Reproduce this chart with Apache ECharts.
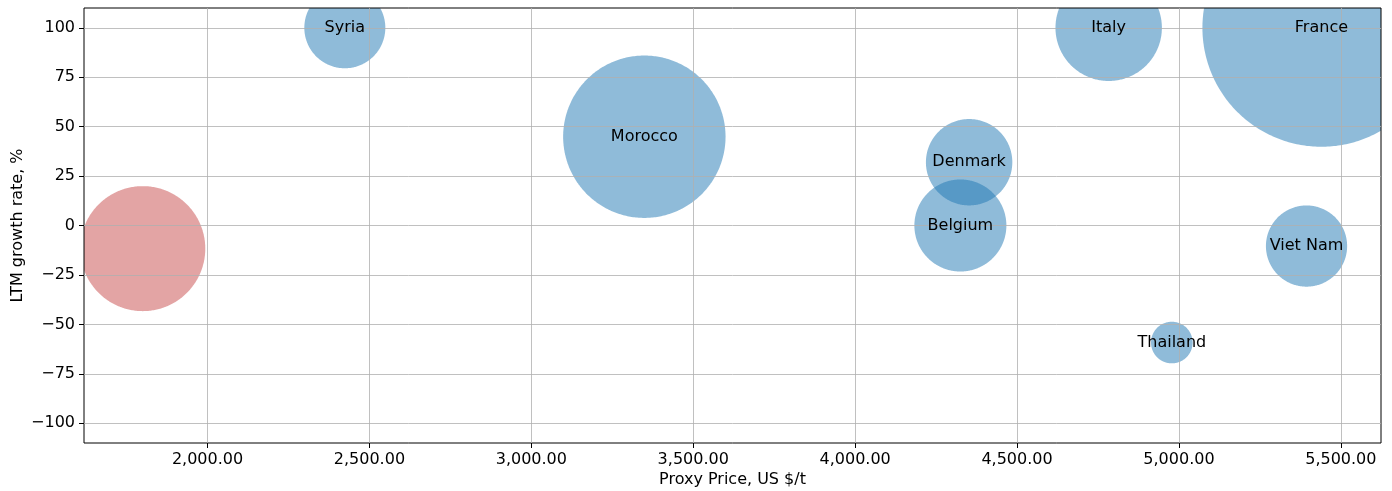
<!DOCTYPE html>
<html>
<head>
<meta charset="utf-8">
<script src="https://cdn.jsdelivr.net/npm/echarts@6/dist/echarts.min.js"></script>
<style>
  html, body { margin: 0; padding: 0; background: #fff; }
  #chart { width: 1392px; height: 491px; }
</style>
</head>
<body>
<div id="chart"></div>
<script>
// ---- data ----
const countries = ['', 'Syria', 'Morocco', 'Denmark', 'Belgium', 'Italy', 'France', 'Viet Nam', 'Thailand'];
const proxyPrice = [1800, 2424, 3349, 4352, 4325, 4783, 5440, 5394, 4978];   // US $/t
const growthRate = [-11.7, 100, 44.9, 32.0, 0, 100, 100, -10.4, -59.2];      // LTM growth, %
const volume = [15625, 6561, 26374, 7465, 8464, 11321, 56644, 6593, 1731];   // bubble size value
const group = ['self', 'partner', 'partner', 'partner', 'partner', 'partner', 'partner', 'partner', 'partner'];
const xTicks = [2000, 2500, 3000, 3500, 4000, 4500, 5000, 5500];
const yTicks = [-100, -75, -50, -25, 0, 25, 50, 75, 100];
const xRange = [1618.5, 5624];
const yRange = [-110, 110];

// ---- styles / layout ----
const G = { left: 84, top: 8, right: 11, bottom: 48 };
const FONT = '"DejaVu Sans", "Liberation Sans", sans-serif';
const RADIUS_SCALE = 0.5;
const groupColor = { self: 'rgba(200,73,73,0.5)', partner: 'rgba(31,119,180,0.5)' };

const points = countries.map((c, i) => [proxyPrice[i], growthRate[i], volume[i], i]);

function fmtX(v) {
  return v.toFixed(2).replace(/\B(?=(\d{3})+(?!\d))/g, ',');
}
function fmtY(v) {
  return v < 0 ? '\u2212' + Math.abs(v) : String(v);
}

// circle outline clipped to the plot rectangle (clamping is exact for a circle)
function clippedCircle(cx, cy, r, x0, x1, y0, y1) {
  const pts = [];
  const n = 360;
  for (let k = 0; k < n; k++) {
    const a = (k / n) * Math.PI * 2;
    let x = cx + r * Math.cos(a), y = cy + r * Math.sin(a);
    x = Math.min(Math.max(x, x0), x1);
    y = Math.min(Math.max(y, y0), y1);
    pts.push([x, y]);
  }
  return pts;
}

const chart = echarts.init(document.getElementById('chart'), null, { renderer: 'canvas' });
chart.setOption({
  animation: false,
  backgroundColor: '#fff',
  textStyle: { fontFamily: FONT },
  grid: {
    z: 10,
    left: G.left, top: G.top, right: G.right, bottom: G.bottom,
    containLabel: false,
    outerBoundsMode: 'none',
    show: true,
    backgroundColor: 'transparent',
    borderColor: '#000',
    borderWidth: 1
  },
  xAxis: {
    z: 10,
    type: 'value',
    min: xRange[0], max: xRange[1],
    name: 'Proxy Price, US $/t',
    nameLocation: 'middle',
    nameGap: 29,
    nameMoveOverlap: false,
    nameTextStyle: { color: '#000', fontSize: 16, fontFamily: FONT },
    axisLine: { show: false, onZero: false },
    axisTick: { show: true, length: 5, inside: false, customValues: xTicks, lineStyle: { color: '#000', width: 1 } },
    axisLabel: { customValues: xTicks, formatter: fmtX, color: '#000', fontSize: 16, fontFamily: FONT, margin: 9 },
    splitLine: { show: true, lineStyle: { color: '#b0b0b0', width: 0.8 } }
  },
  yAxis: {
    z: 10,
    type: 'value',
    min: yRange[0], max: yRange[1],
    name: 'LTM growth rate, %',
    nameLocation: 'middle',
    nameGap: 58,
    nameMoveOverlap: false,
    nameTextStyle: { color: '#000', fontSize: 16, fontFamily: FONT },
    axisLine: { show: false, onZero: false },
    axisTick: { show: true, length: 5, inside: false, customValues: yTicks, lineStyle: { color: '#000', width: 1 } },
    axisLabel: { customValues: yTicks, formatter: fmtY, color: '#000', fontSize: 16, fontFamily: FONT, margin: 9 },
    splitLine: { show: true, lineStyle: { color: '#b0b0b0', width: 0.8 } }
  },
  series: [
    {
      type: 'custom',
      name: 'bubbles',
      z: 2,
      silent: true,
      data: points,
      encode: { x: 0, y: 1 },
      renderItem: function (params, api) {
        const p = api.coord([api.value(0), api.value(1)]);
        const lo = api.coord([xRange[0], yRange[0]]);
        const hi = api.coord([xRange[1], yRange[1]]);
        const r = Math.sqrt(api.value(2)) * RADIUS_SCALE;
        const idx = api.value(3);
        return {
          type: 'polygon',
          shape: { points: clippedCircle(p[0], p[1], r,
            Math.min(lo[0], hi[0]), Math.max(lo[0], hi[0]),
            Math.min(lo[1], hi[1]), Math.max(lo[1], hi[1])) },
          style: { fill: groupColor[group[idx]], stroke: null }
        };
      }
    },
    {
      type: 'custom',
      name: 'labels',
      z: 12,
      silent: true,
      data: points,
      encode: { x: 0, y: 1 },
      renderItem: function (params, api) {
        const p = api.coord([api.value(0), api.value(1)]);
        const idx = api.value(3);
        return {
          type: 'text',
          x: p[0], y: p[1],
          style: {
            text: countries[idx],
            fill: '#000',
            font: '16px ' + FONT,
            align: 'center',
            verticalAlign: 'middle'
          }
        };
      }
    }
  ]
});
</script>
</body>
</html>
